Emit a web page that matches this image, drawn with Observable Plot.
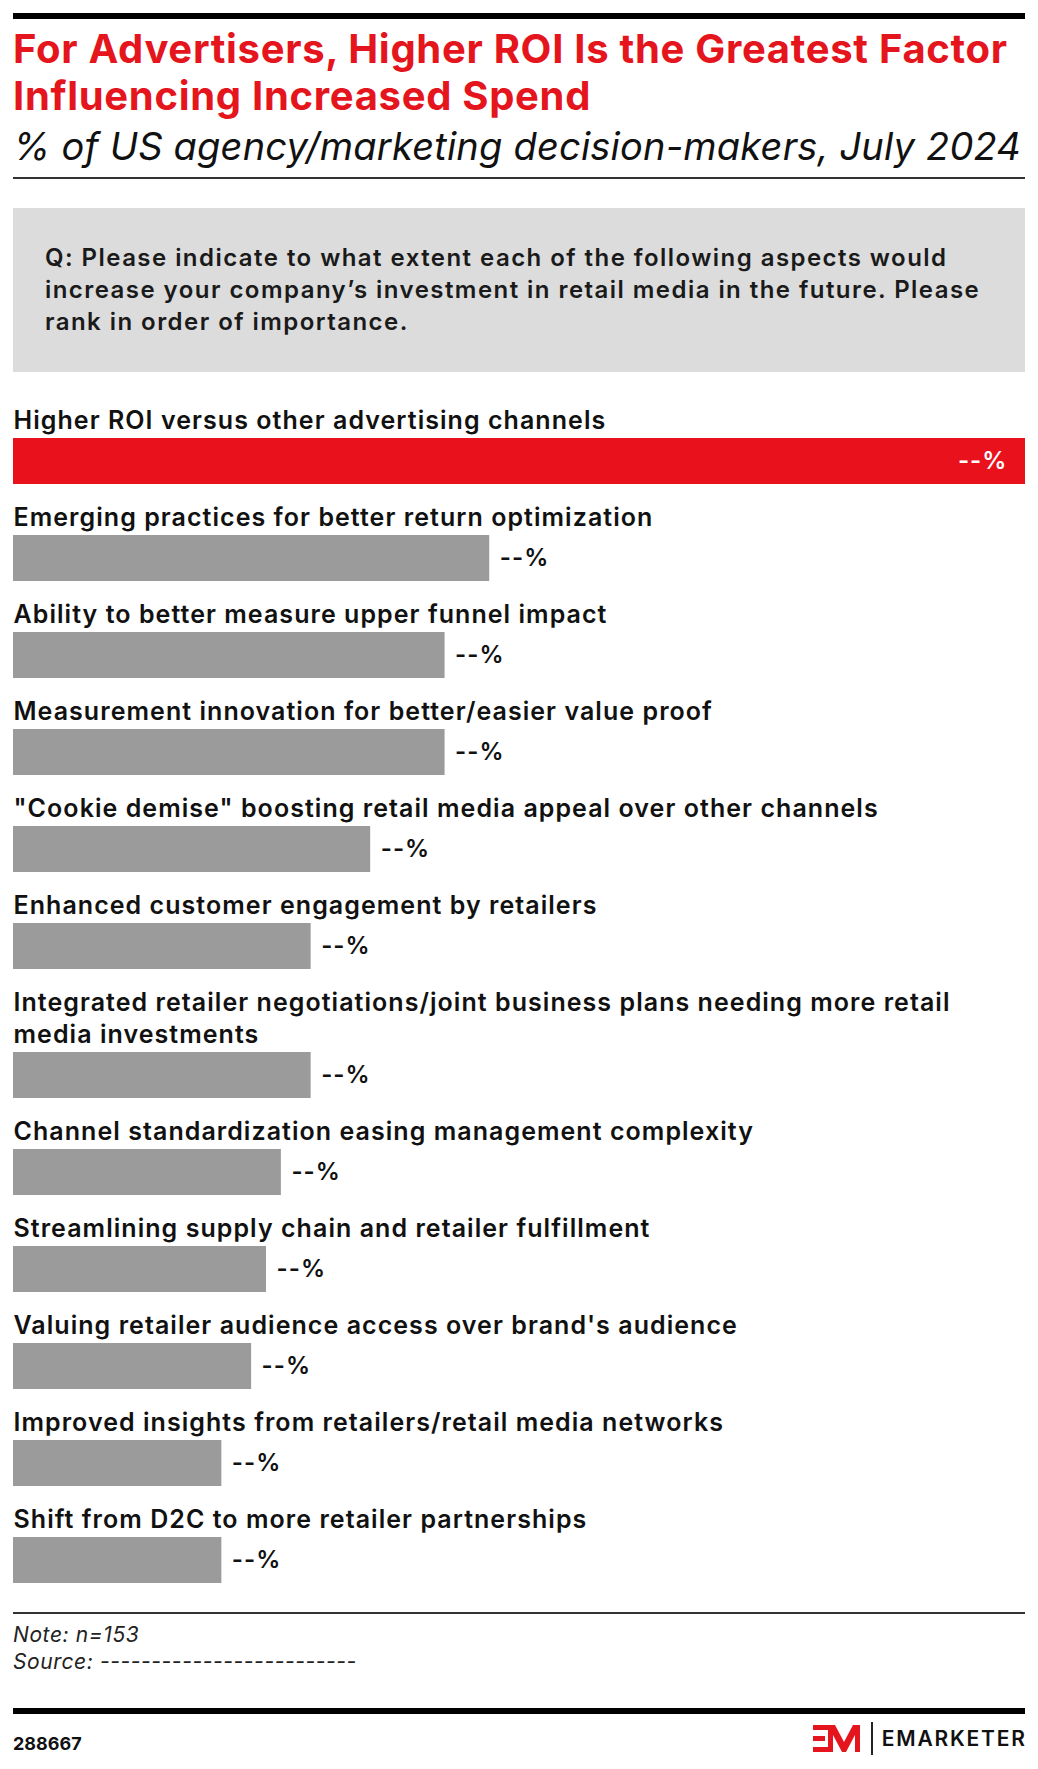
<!DOCTYPE html>
<html>
<head>
<meta charset="utf-8">
<script src="https://cdn.jsdelivr.net/npm/d3@7"></script>
<script src="https://cdn.jsdelivr.net/npm/@observablehq/plot@0.6"></script>
<style>
  html, body { margin: 0; padding: 0; background: #fff; }
  body { width: 1038px; font-family: Inter, "Noto Sans", sans-serif; color: #111; }
  .wrap { padding: 0 13px; }
  .rule-top { margin-top: 13px; height: 6px; background: #000; }
  h1 { margin: 6px 0 0; font-size: 40px; line-height: 47px; font-weight: 700; color: #e4151c; white-space: nowrap; letter-spacing: 0.7px; }
  .sub { margin-top: 7px; font-size: 38px; line-height: 40px; font-style: italic; font-weight: 400; white-space: nowrap; color: #111; letter-spacing: 0.2px; }
  .rule-thin { margin-top: 11px; height: 2px; background: #333; }
  .qbox { margin-top: 29px; height: 164px; box-sizing: border-box; background: #dcdcdc; padding: 34px 0 0 32px; font-size: 24px; line-height: 32px; font-weight: 600; color: #1a1a1a; white-space: nowrap; letter-spacing: 1.45px; }
  #chart svg { display: block; }
  .note { margin-top: 7px; font-size: 21px; line-height: 27px; font-style: italic; color: #222; letter-spacing: 0.6px; }
  .rule-bot { margin-top: 33px; height: 6px; background: #000; }
  .bottom { position: relative; height: 55px; }
  .id { position: absolute; left: 0; top: 19px; font-size: 18px; font-weight: 700; color: #111; }
  .logo { position: absolute; right: 0; top: 8px; display: flex; align-items: center; }
  .logo .bar { width: 1.5px; height: 33px; background: #222; margin: 0 9px 0 10px; }
  .logo .word { font-size: 21px; font-weight: 600; letter-spacing: 1.8px; color: #111; margin-right: -1.8px; }
</style>
</head>
<body>
<div class="wrap">
  <div class="rule-top"></div>
  <h1>For Advertisers, Higher ROI Is the Greatest Factor<br>Influencing Increased Spend</h1>
  <div class="sub">% of US agency/marketing decision-makers, July 2024</div>
  <div class="rule-thin"></div>
  <div class="qbox">Q: Please indicate to what extent each of the following aspects would<br>increase your company’s investment in retail media in the future. Please<br>rank in order of importance.</div>
</div>
<div id="chart"></div>
<div class="wrap">
  <div class="rule-thin" style="margin-top:0"></div>
  <div class="note">Note: n=153<br>Source: -------------------------</div>
  <div class="rule-bot"></div>
  <div class="bottom">
    <div class="id">288667</div>
    <div class="logo">
      <svg width="48" height="28" viewBox="0 0 48 28">
        <rect x="0" y="0" width="15" height="5" fill="#e4151c"/>
        <rect x="0" y="11" width="12" height="5" fill="#e4151c"/>
        <rect x="0" y="22" width="15" height="5" fill="#e4151c"/>
        <path d="M15 0 L22 0 L31 17 L40 0 L47 0 L47 27 L42 27 L42 10 L33 27 L29 27 L20 10 L20 27 L15 27 Z" fill="#e4151c"/>
      </svg>
      <div class="bar"></div>
      <div class="word">EMARKETER</div>
    </div>
  </div>
</div>
<script>
const categories = [
  "Higher ROI versus other advertising channels",
  "Emerging practices for better return optimization",
  "Ability to better measure upper funnel impact",
  "Measurement innovation for better/easier value proof",
  "\"Cookie demise\" boosting retail media appeal over other channels",
  "Enhanced customer engagement by retailers",
  "Integrated retailer negotiations/joint business plans needing more retail\nmedia investments",
  "Channel standardization easing management complexity",
  "Streamlining supply chain and retailer fulfillment",
  "Valuing retailer audience access over brand's audience",
  "Improved insights from retailers/retail media networks",
  "Shift from D2C to more retailer partnerships"
];
const values = [68, 32, 29, 29, 24, 20, 20, 18, 17, 16, 14, 14];
const valueLabels = ["--%", "--%", "--%", "--%", "--%", "--%", "--%", "--%", "--%", "--%", "--%", "--%"];

const RED = "#e8111c";
const GRAY = "#9b9b9b";
const H = 1240;

let cursor = 0;
const rows = categories.map((category, i) => {
  const lines = category.split("\n").length;
  const barTop = cursor + 66 + (lines - 1) * 32;
  cursor = barTop + 31;
  return {
    category,
    value: values[i],
    label: valueLabels[i],
    top: i === 0,
    barTop,
    barBottom: barTop + 46,
    baseline: barTop - 10,
    mid: barTop + 23
  };
});

const chart = Plot.plot({
  width: 1038,
  height: H,
  marginLeft: 13,
  marginRight: 13,
  marginTop: 0,
  marginBottom: 0,
  style: { fontFamily: "Inter, 'Noto Sans', sans-serif", background: "#fff", letterSpacing: "1.05px" },
  x: { domain: [0, d3.max(values)], axis: null },
  y: { domain: [0, H], range: [0, H], axis: null },
  marks: [
    Plot.rect(rows, { x1: 0, x2: "value", y1: "barTop", y2: "barBottom", fill: d => d.top ? RED : GRAY }),
    Plot.text(rows, { x: 0, y: "baseline", text: "category", textAnchor: "start", lineAnchor: "bottom", lineHeight: 1.28, fontSize: 25, fontWeight: 600, fill: "#111" }),
    Plot.text(rows.filter(d => d.top), { x: "value", y: "mid", text: "label", textAnchor: "end", lineAnchor: "middle", dx: -18, fontSize: 24, fontWeight: 600, fill: "#fff" }),
    Plot.text(rows.filter(d => !d.top), { x: "value", y: "mid", text: "label", textAnchor: "start", lineAnchor: "middle", dx: 10, fontSize: 24, fontWeight: 600, fill: "#111" })
  ]
});
document.getElementById("chart").appendChild(chart);
</script>
</body>
</html>
